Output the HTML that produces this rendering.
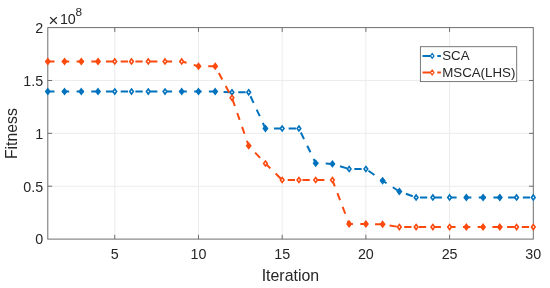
<!DOCTYPE html><html><head><meta charset="utf-8"><title>Fitness vs Iteration</title>
<style>html,body{margin:0;padding:0;background:#fff}body{width:550px;height:288px;overflow:hidden}svg{display:block}text{font-family:"Liberation Sans",Arial,sans-serif;fill:#262626}</style></head><body>
<svg width="550" height="288" viewBox="0 0 550 288">
<rect width="550" height="288" fill="#fff"/>
<line x1="114.77" y1="27.6" x2="114.77" y2="239.1" stroke="#ececec" stroke-width="1"/>
<line x1="198.47" y1="27.6" x2="198.47" y2="239.1" stroke="#ececec" stroke-width="1"/>
<line x1="282.18" y1="27.6" x2="282.18" y2="239.1" stroke="#ececec" stroke-width="1"/>
<line x1="365.89" y1="27.6" x2="365.89" y2="239.1" stroke="#ececec" stroke-width="1"/>
<line x1="449.59" y1="27.6" x2="449.59" y2="239.1" stroke="#ececec" stroke-width="1"/>
<line x1="47.8" y1="186.22" x2="533.3" y2="186.22" stroke="#ececec" stroke-width="1"/>
<line x1="47.8" y1="133.35" x2="533.3" y2="133.35" stroke="#ececec" stroke-width="1"/>
<line x1="47.8" y1="80.47" x2="533.3" y2="80.47" stroke="#ececec" stroke-width="1"/>
<rect x="47.8" y="27.6" width="485.50" height="211.50" fill="none" stroke="#6e6e6e" stroke-width="1"/>
<line x1="114.77" y1="239.1" x2="114.77" y2="234.79999999999998" stroke="#6e6e6e" stroke-width="1"/>
<line x1="114.77" y1="27.6" x2="114.77" y2="31.900000000000002" stroke="#6e6e6e" stroke-width="1"/>
<line x1="198.47" y1="239.1" x2="198.47" y2="234.79999999999998" stroke="#6e6e6e" stroke-width="1"/>
<line x1="198.47" y1="27.6" x2="198.47" y2="31.900000000000002" stroke="#6e6e6e" stroke-width="1"/>
<line x1="282.18" y1="239.1" x2="282.18" y2="234.79999999999998" stroke="#6e6e6e" stroke-width="1"/>
<line x1="282.18" y1="27.6" x2="282.18" y2="31.900000000000002" stroke="#6e6e6e" stroke-width="1"/>
<line x1="365.89" y1="239.1" x2="365.89" y2="234.79999999999998" stroke="#6e6e6e" stroke-width="1"/>
<line x1="365.89" y1="27.6" x2="365.89" y2="31.900000000000002" stroke="#6e6e6e" stroke-width="1"/>
<line x1="449.59" y1="239.1" x2="449.59" y2="234.79999999999998" stroke="#6e6e6e" stroke-width="1"/>
<line x1="449.59" y1="27.6" x2="449.59" y2="31.900000000000002" stroke="#6e6e6e" stroke-width="1"/>
<line x1="47.8" y1="186.22" x2="52.099999999999994" y2="186.22" stroke="#6e6e6e" stroke-width="1"/>
<line x1="533.3" y1="186.22" x2="529.0" y2="186.22" stroke="#6e6e6e" stroke-width="1"/>
<line x1="47.8" y1="133.35" x2="52.099999999999994" y2="133.35" stroke="#6e6e6e" stroke-width="1"/>
<line x1="533.3" y1="133.35" x2="529.0" y2="133.35" stroke="#6e6e6e" stroke-width="1"/>
<line x1="47.8" y1="80.47" x2="52.099999999999994" y2="80.47" stroke="#6e6e6e" stroke-width="1"/>
<line x1="533.3" y1="80.47" x2="529.0" y2="80.47" stroke="#6e6e6e" stroke-width="1"/>
<text x="114.77" y="259.2" font-size="14.3" text-anchor="middle">5</text>
<text x="198.47" y="259.2" font-size="14.3" text-anchor="middle">10</text>
<text x="282.18" y="259.2" font-size="14.3" text-anchor="middle">15</text>
<text x="365.89" y="259.2" font-size="14.3" text-anchor="middle">20</text>
<text x="449.59" y="259.2" font-size="14.3" text-anchor="middle">25</text>
<text x="533.30" y="259.2" font-size="14.3" text-anchor="middle">30</text>
<text x="43.2" y="244.40" font-size="14.3" text-anchor="end">0</text>
<text x="43.2" y="191.53" font-size="14.3" text-anchor="end">0.5</text>
<text x="43.2" y="138.65" font-size="14.3" text-anchor="end">1</text>
<text x="43.2" y="85.77" font-size="14.3" text-anchor="end">1.5</text>
<text x="43.2" y="32.90" font-size="14.3" text-anchor="end">2</text>
<text x="48.4" y="25.8" font-size="17">×</text><text x="59.9" y="23.6" font-size="14.3">10</text><text x="75.4" y="16.1" font-size="11.8">8</text>
<text x="290.4" y="280.7" font-size="15.9" text-anchor="middle">Iteration</text>
<text transform="translate(17.2 133.6) rotate(-90)" font-size="15.8" text-anchor="middle">Fitness</text>
<polyline points="47.80,91.58 64.54,91.58 81.28,91.58 98.02,91.58 114.77,91.58 131.51,91.58 148.25,91.58 164.99,91.58 181.73,91.58 198.47,91.58 215.21,91.58 231.96,92.32 248.70,92.32 265.44,128.49 282.18,128.49 298.92,128.49 315.66,163.17 332.40,163.91 349.14,168.99 365.89,168.99 382.63,180.73 399.37,191.51 416.11,197.43 432.85,197.43 449.59,197.43 466.33,197.43 483.08,197.43 499.82,197.43 516.56,197.43 533.30,197.43" fill="none" stroke="#0072BD" stroke-width="2.0" stroke-dasharray="7.3 7.4" stroke-dashoffset="0.6" stroke-linejoin="round"/>
<path d="M47.80 88.93L49.85 91.58L47.80 94.23L45.75 91.58Z" fill="#0072BD" stroke="#0072BD" stroke-width="1.6" stroke-linejoin="miter"/>
<path d="M64.54 88.93L66.59 91.58L64.54 94.23L62.49 91.58Z" fill="#0072BD" stroke="#0072BD" stroke-width="1.6" stroke-linejoin="miter"/>
<path d="M81.28 88.93L83.33 91.58L81.28 94.23L79.23 91.58Z" fill="#0072BD" stroke="#0072BD" stroke-width="1.6" stroke-linejoin="miter"/>
<path d="M98.02 88.93L100.07 91.58L98.02 94.23L95.97 91.58Z" fill="#0072BD" stroke="#0072BD" stroke-width="1.6" stroke-linejoin="miter"/>
<path d="M114.77 89.08L116.62 91.58L114.77 94.08L112.92 91.58Z" fill="#fff" stroke="#0072BD" stroke-width="1.6" stroke-linejoin="miter"/>
<path d="M131.51 89.08L133.36 91.58L131.51 94.08L129.66 91.58Z" fill="#fff" stroke="#0072BD" stroke-width="1.6" stroke-linejoin="miter"/>
<path d="M148.25 89.08L150.10 91.58L148.25 94.08L146.40 91.58Z" fill="#fff" stroke="#0072BD" stroke-width="1.6" stroke-linejoin="miter"/>
<path d="M164.99 89.08L166.84 91.58L164.99 94.08L163.14 91.58Z" fill="#fff" stroke="#0072BD" stroke-width="1.6" stroke-linejoin="miter"/>
<path d="M181.73 88.93L183.78 91.58L181.73 94.23L179.68 91.58Z" fill="#0072BD" stroke="#0072BD" stroke-width="1.6" stroke-linejoin="miter"/>
<path d="M198.47 88.93L200.52 91.58L198.47 94.23L196.42 91.58Z" fill="#0072BD" stroke="#0072BD" stroke-width="1.6" stroke-linejoin="miter"/>
<path d="M215.21 88.93L217.26 91.58L215.21 94.23L213.16 91.58Z" fill="#0072BD" stroke="#0072BD" stroke-width="1.6" stroke-linejoin="miter"/>
<path d="M231.96 89.82L233.81 92.32L231.96 94.82L230.11 92.32Z" fill="#fff" stroke="#0072BD" stroke-width="1.6" stroke-linejoin="miter"/>
<path d="M248.70 89.82L250.55 92.32L248.70 94.82L246.85 92.32Z" fill="#fff" stroke="#0072BD" stroke-width="1.6" stroke-linejoin="miter"/>
<path d="M265.44 125.84L267.49 128.49L265.44 131.14L263.39 128.49Z" fill="#0072BD" stroke="#0072BD" stroke-width="1.6" stroke-linejoin="miter"/>
<path d="M282.18 125.99L284.03 128.49L282.18 130.99L280.33 128.49Z" fill="#fff" stroke="#0072BD" stroke-width="1.6" stroke-linejoin="miter"/>
<path d="M298.92 125.99L300.77 128.49L298.92 130.99L297.07 128.49Z" fill="#fff" stroke="#0072BD" stroke-width="1.6" stroke-linejoin="miter"/>
<path d="M315.66 160.52L317.71 163.17L315.66 165.82L313.61 163.17Z" fill="#0072BD" stroke="#0072BD" stroke-width="1.6" stroke-linejoin="miter"/>
<path d="M332.40 161.26L334.45 163.91L332.40 166.56L330.35 163.91Z" fill="#0072BD" stroke="#0072BD" stroke-width="1.6" stroke-linejoin="miter"/>
<path d="M349.14 166.49L350.99 168.99L349.14 171.49L347.29 168.99Z" fill="#fff" stroke="#0072BD" stroke-width="1.6" stroke-linejoin="miter"/>
<path d="M365.89 166.49L367.74 168.99L365.89 171.49L364.04 168.99Z" fill="#fff" stroke="#0072BD" stroke-width="1.6" stroke-linejoin="miter"/>
<path d="M382.63 178.08L384.68 180.73L382.63 183.38L380.58 180.73Z" fill="#0072BD" stroke="#0072BD" stroke-width="1.6" stroke-linejoin="miter"/>
<path d="M399.37 188.86L401.42 191.51L399.37 194.16L397.32 191.51Z" fill="#0072BD" stroke="#0072BD" stroke-width="1.6" stroke-linejoin="miter"/>
<path d="M416.11 194.93L417.96 197.43L416.11 199.93L414.26 197.43Z" fill="#fff" stroke="#0072BD" stroke-width="1.6" stroke-linejoin="miter"/>
<path d="M432.85 194.93L434.70 197.43L432.85 199.93L431.00 197.43Z" fill="#fff" stroke="#0072BD" stroke-width="1.6" stroke-linejoin="miter"/>
<path d="M449.59 194.93L451.44 197.43L449.59 199.93L447.74 197.43Z" fill="#fff" stroke="#0072BD" stroke-width="1.6" stroke-linejoin="miter"/>
<path d="M466.33 194.78L468.38 197.43L466.33 200.08L464.28 197.43Z" fill="#0072BD" stroke="#0072BD" stroke-width="1.6" stroke-linejoin="miter"/>
<path d="M483.08 194.78L485.13 197.43L483.08 200.08L481.03 197.43Z" fill="#0072BD" stroke="#0072BD" stroke-width="1.6" stroke-linejoin="miter"/>
<path d="M499.82 194.78L501.87 197.43L499.82 200.08L497.77 197.43Z" fill="#0072BD" stroke="#0072BD" stroke-width="1.6" stroke-linejoin="miter"/>
<path d="M516.56 194.93L518.41 197.43L516.56 199.93L514.71 197.43Z" fill="#fff" stroke="#0072BD" stroke-width="1.6" stroke-linejoin="miter"/>
<path d="M533.30 194.93L535.15 197.43L533.30 199.93L531.45 197.43Z" fill="#fff" stroke="#0072BD" stroke-width="1.6" stroke-linejoin="miter"/>
<polyline points="47.80,61.44 64.54,61.44 81.28,61.44 98.02,61.44 114.77,61.44 131.51,61.44 148.25,61.44 164.99,61.44 181.73,61.44 198.47,66.20 215.21,66.20 231.96,97.82 248.70,145.83 265.44,163.49 282.18,179.99 298.92,179.99 315.66,179.99 332.40,179.99 349.14,223.98 365.89,223.98 382.63,224.29 399.37,227.04 416.11,227.04 432.85,227.04 449.59,227.04 466.33,227.04 483.08,227.04 499.82,227.04 516.56,227.04 533.30,227.04" fill="none" stroke="#FC4A0E" stroke-width="2.0" stroke-dasharray="7.3 7.4" stroke-dashoffset="0.6" stroke-linejoin="round"/>
<path d="M47.80 58.79L49.85 61.44L47.80 64.09L45.75 61.44Z" fill="#FC4A0E" stroke="#FC4A0E" stroke-width="1.6" stroke-linejoin="miter"/>
<path d="M64.54 58.79L66.59 61.44L64.54 64.09L62.49 61.44Z" fill="#FC4A0E" stroke="#FC4A0E" stroke-width="1.6" stroke-linejoin="miter"/>
<path d="M81.28 58.79L83.33 61.44L81.28 64.09L79.23 61.44Z" fill="#FC4A0E" stroke="#FC4A0E" stroke-width="1.6" stroke-linejoin="miter"/>
<path d="M98.02 58.79L100.07 61.44L98.02 64.09L95.97 61.44Z" fill="#FC4A0E" stroke="#FC4A0E" stroke-width="1.6" stroke-linejoin="miter"/>
<path d="M114.77 58.94L116.62 61.44L114.77 63.94L112.92 61.44Z" fill="#fff" stroke="#FC4A0E" stroke-width="1.6" stroke-linejoin="miter"/>
<path d="M131.51 58.94L133.36 61.44L131.51 63.94L129.66 61.44Z" fill="#fff" stroke="#FC4A0E" stroke-width="1.6" stroke-linejoin="miter"/>
<path d="M148.25 58.94L150.10 61.44L148.25 63.94L146.40 61.44Z" fill="#fff" stroke="#FC4A0E" stroke-width="1.6" stroke-linejoin="miter"/>
<path d="M164.99 58.94L166.84 61.44L164.99 63.94L163.14 61.44Z" fill="#fff" stroke="#FC4A0E" stroke-width="1.6" stroke-linejoin="miter"/>
<path d="M181.73 58.94L183.58 61.44L181.73 63.94L179.88 61.44Z" fill="#fff" stroke="#FC4A0E" stroke-width="1.6" stroke-linejoin="miter"/>
<path d="M198.47 63.55L200.52 66.20L198.47 68.85L196.42 66.20Z" fill="#FC4A0E" stroke="#FC4A0E" stroke-width="1.6" stroke-linejoin="miter"/>
<path d="M215.21 63.55L217.26 66.20L215.21 68.85L213.16 66.20Z" fill="#FC4A0E" stroke="#FC4A0E" stroke-width="1.6" stroke-linejoin="miter"/>
<path d="M231.96 95.32L233.81 97.82L231.96 100.32L230.11 97.82Z" fill="#fff" stroke="#FC4A0E" stroke-width="1.6" stroke-linejoin="miter"/>
<path d="M248.70 143.18L250.75 145.83L248.70 148.48L246.65 145.83Z" fill="#FC4A0E" stroke="#FC4A0E" stroke-width="1.6" stroke-linejoin="miter"/>
<path d="M265.44 160.99L267.29 163.49L265.44 165.99L263.59 163.49Z" fill="#fff" stroke="#FC4A0E" stroke-width="1.6" stroke-linejoin="miter"/>
<path d="M282.18 177.49L284.03 179.99L282.18 182.49L280.33 179.99Z" fill="#fff" stroke="#FC4A0E" stroke-width="1.6" stroke-linejoin="miter"/>
<path d="M298.92 177.49L300.77 179.99L298.92 182.49L297.07 179.99Z" fill="#fff" stroke="#FC4A0E" stroke-width="1.6" stroke-linejoin="miter"/>
<path d="M315.66 177.49L317.51 179.99L315.66 182.49L313.81 179.99Z" fill="#fff" stroke="#FC4A0E" stroke-width="1.6" stroke-linejoin="miter"/>
<path d="M332.40 177.49L334.25 179.99L332.40 182.49L330.55 179.99Z" fill="#fff" stroke="#FC4A0E" stroke-width="1.6" stroke-linejoin="miter"/>
<path d="M349.14 221.33L351.19 223.98L349.14 226.63L347.09 223.98Z" fill="#FC4A0E" stroke="#FC4A0E" stroke-width="1.6" stroke-linejoin="miter"/>
<path d="M365.89 221.33L367.94 223.98L365.89 226.63L363.84 223.98Z" fill="#FC4A0E" stroke="#FC4A0E" stroke-width="1.6" stroke-linejoin="miter"/>
<path d="M382.63 221.64L384.68 224.29L382.63 226.94L380.58 224.29Z" fill="#FC4A0E" stroke="#FC4A0E" stroke-width="1.6" stroke-linejoin="miter"/>
<path d="M399.37 224.54L401.22 227.04L399.37 229.54L397.52 227.04Z" fill="#fff" stroke="#FC4A0E" stroke-width="1.6" stroke-linejoin="miter"/>
<path d="M416.11 224.54L417.96 227.04L416.11 229.54L414.26 227.04Z" fill="#fff" stroke="#FC4A0E" stroke-width="1.6" stroke-linejoin="miter"/>
<path d="M432.85 224.54L434.70 227.04L432.85 229.54L431.00 227.04Z" fill="#fff" stroke="#FC4A0E" stroke-width="1.6" stroke-linejoin="miter"/>
<path d="M449.59 224.54L451.44 227.04L449.59 229.54L447.74 227.04Z" fill="#fff" stroke="#FC4A0E" stroke-width="1.6" stroke-linejoin="miter"/>
<path d="M466.33 224.39L468.38 227.04L466.33 229.69L464.28 227.04Z" fill="#FC4A0E" stroke="#FC4A0E" stroke-width="1.6" stroke-linejoin="miter"/>
<path d="M483.08 224.39L485.13 227.04L483.08 229.69L481.03 227.04Z" fill="#FC4A0E" stroke="#FC4A0E" stroke-width="1.6" stroke-linejoin="miter"/>
<path d="M499.82 224.39L501.87 227.04L499.82 229.69L497.77 227.04Z" fill="#FC4A0E" stroke="#FC4A0E" stroke-width="1.6" stroke-linejoin="miter"/>
<path d="M516.56 224.54L518.41 227.04L516.56 229.54L514.71 227.04Z" fill="#fff" stroke="#FC4A0E" stroke-width="1.6" stroke-linejoin="miter"/>
<path d="M533.30 224.54L535.15 227.04L533.30 229.54L531.45 227.04Z" fill="#fff" stroke="#FC4A0E" stroke-width="1.6" stroke-linejoin="miter"/>
<rect x="420.4" y="46.7" width="96.30" height="34.90" fill="#fff" stroke="#6a6a6a" stroke-width="0.9"/>
<path d="M422.5 55.9H430.5M437.3 55.9H440.9" stroke="#0072BD" stroke-width="2.0" fill="none"/>
<path d="M432.20 53.50L433.95 55.90L432.20 58.30L430.45 55.90Z" fill="#fff" stroke="#0072BD" stroke-width="1.25" stroke-linejoin="miter"/>
<text x="442.2" y="60.2" font-size="13.3">SCA</text>
<path d="M422.5 72.5H430.5M437.3 72.5H440.9" stroke="#FC4A0E" stroke-width="2.0" fill="none"/>
<path d="M432.20 70.10L433.95 72.50L432.20 74.90L430.45 72.50Z" fill="#fff" stroke="#FC4A0E" stroke-width="1.25" stroke-linejoin="miter"/>
<text x="442.2" y="76.9" font-size="13.3">MSCA(LHS)</text>
</svg></body></html>
